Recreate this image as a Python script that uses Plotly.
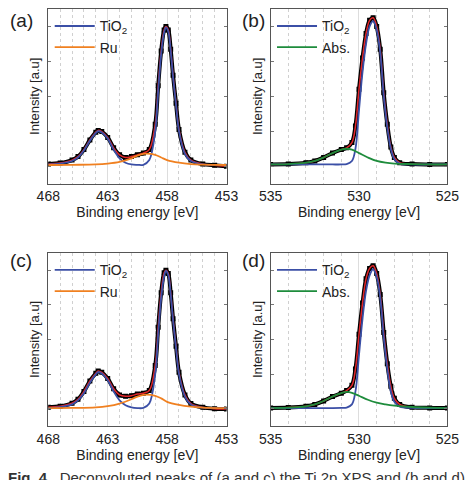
import plotly.graph_objects as go

# ---- Panel (a): Ti 2p ----
a_x = [468,467,466,465.5,465,464.5,464,463.8,463.5,463,462.5,462,461.5,461,460.5,460,459.5,459,458.75,458.5,458.25,458.1,457.9,457.7,457.5,457.25,457,456.5,456,455,454,453]
a_fit = [0.112,0.118,0.135,0.155,0.195,0.25,0.295,0.305,0.298,0.265,0.205,0.165,0.15,0.155,0.165,0.175,0.195,0.34,0.56,0.76,0.88,0.9,0.88,0.77,0.62,0.46,0.31,0.18,0.135,0.112,0.105,0.1]
a_ti = [0.11,0.115,0.13,0.15,0.19,0.245,0.29,0.3,0.293,0.258,0.195,0.145,0.12,0.11,0.108,0.108,0.135,0.3,0.53,0.74,0.865,0.895,0.87,0.76,0.61,0.45,0.3,0.17,0.13,0.11,0.108,0.107]
a_ru_x = [468,466,464,463,462,461,460.5,460,459.7,459,458.5,458,457,456,455,453]
a_ru = [0.107,0.108,0.11,0.115,0.125,0.145,0.16,0.17,0.172,0.165,0.15,0.135,0.12,0.112,0.109,0.107]

# ---- Panel (b): O 1s ----
b_x = [535,534,533,532.5,532,531.5,531,530.7,530.4,530.2,530,529.8,529.6,529.4,529.2,529,528.8,528.6,528.4,528.2,528,527.7,527,526,525]
b_fit = [0.11,0.112,0.12,0.13,0.15,0.175,0.195,0.205,0.235,0.33,0.54,0.72,0.86,0.935,0.95,0.9,0.77,0.52,0.34,0.21,0.15,0.12,0.112,0.11,0.11]
b_ti = [0.11,0.11,0.11,0.11,0.11,0.11,0.11,0.112,0.13,0.2,0.42,0.64,0.8,0.9,0.93,0.88,0.75,0.5,0.32,0.2,0.14,0.115,0.11,0.11,0.11]
b_abs_x = [535,534,533,532.5,532,531.5,531,530.7,530.4,530,529.5,529,528.5,528,527,526,525]
b_abs = [0.11,0.112,0.12,0.13,0.15,0.175,0.195,0.2,0.195,0.175,0.15,0.13,0.12,0.115,0.112,0.11,0.11]

# ---- Panel (c): Ti 2p ----
c_x = a_x
c_fit = [0.108,0.114,0.132,0.155,0.2,0.26,0.305,0.318,0.31,0.275,0.215,0.18,0.172,0.175,0.185,0.19,0.205,0.35,0.57,0.77,0.885,0.9,0.88,0.77,0.62,0.46,0.31,0.18,0.13,0.108,0.1,0.098]
c_ti = [0.105,0.11,0.125,0.148,0.19,0.25,0.298,0.312,0.303,0.265,0.2,0.148,0.12,0.108,0.104,0.105,0.13,0.3,0.53,0.74,0.865,0.895,0.87,0.76,0.61,0.45,0.3,0.17,0.125,0.106,0.104,0.104]
c_ru_x = a_ru_x
c_ru = [0.104,0.105,0.108,0.115,0.13,0.155,0.17,0.18,0.182,0.175,0.16,0.14,0.122,0.112,0.107,0.104]

# ---- Panel (d): O 1s ----
d_x = b_x
d_fit = [0.105,0.107,0.115,0.125,0.145,0.17,0.19,0.205,0.235,0.33,0.53,0.71,0.85,0.91,0.925,0.88,0.76,0.54,0.36,0.23,0.16,0.125,0.108,0.105,0.105]
d_ti = [0.104,0.104,0.104,0.104,0.104,0.104,0.105,0.107,0.125,0.2,0.41,0.62,0.78,0.87,0.905,0.86,0.74,0.51,0.33,0.2,0.14,0.112,0.105,0.104,0.104]
d_abs_x = b_abs_x
d_abs = [0.104,0.106,0.114,0.125,0.145,0.17,0.19,0.197,0.192,0.175,0.152,0.135,0.125,0.118,0.11,0.106,0.104]

BLUE = "#3b4fa6"; ORANGE = "#f08020"; GREEN = "#1e8c3c"; RED = "#e2262a"

panels = [
    ("a", a_x, a_fit, a_ti, a_ru_x, a_ru, "Ru", ORANGE, [468, 453], [468, 463, 458, 453]),
    ("b", b_x, b_fit, b_ti, b_abs_x, b_abs, "Abs.", GREEN, [535, 525], [535, 530, 525]),
    ("c", c_x, c_fit, c_ti, c_ru_x, c_ru, "Ru", ORANGE, [468, 453], [468, 463, 458, 453]),
    ("d", d_x, d_fit, d_ti, d_abs_x, d_abs, "Abs.", GREEN, [535, 525], [535, 530, 525]),
]
xdom = [[0.085, 0.461], [0.554, 0.927]]
ydom = [[0.634, 0.998], [0.129, 0.49]]

fig = go.Figure()
for i, (lab, x, fit, ti, ox, oy, oname, ocol, rng, tv) in enumerate(panels):
    n = i + 1
    xa = "x" if n == 1 else f"x{n}"
    ya = "y" if n == 1 else f"y{n}"
    lg = "legend" if n == 1 else f"legend{n}"
    fig.add_trace(go.Scatter(x=x, y=fit, mode="lines+markers", line=dict(color="black", width=4, shape="spline"),
                             marker=dict(symbol="square", size=5, color="black"), showlegend=False, xaxis=xa, yaxis=ya))
    fig.add_trace(go.Scatter(x=x, y=fit, mode="lines", line=dict(color=RED, width=1.5, shape="spline"),
                             showlegend=False, xaxis=xa, yaxis=ya))
    fig.add_trace(go.Scatter(x=x, y=ti, mode="lines", name="TiO<sub>2</sub>", line=dict(color=BLUE, width=1.8, shape="spline"),
                             legend=lg, xaxis=xa, yaxis=ya))
    fig.add_trace(go.Scatter(x=ox, y=oy, mode="lines", name=oname, line=dict(color=ocol, width=1.8, shape="spline"),
                             legend=lg, xaxis=xa, yaxis=ya))
    xd = xdom[i % 2]; yd = ydom[i // 2]
    fig.layout[("xaxis" if n == 1 else f"xaxis{n}")] = dict(
        domain=xd, anchor=ya, range=rng, tickvals=tv, ticks="", showline=True, linecolor="#555", mirror=True,
        showgrid=True, gridcolor="#dddddd", gridwidth=1, automargin=False,
        minor=dict(dtick=1, showgrid=True, gridcolor="#d0d0d0", griddash="dot", ticks=""),
        tickfont=dict(size=14, color="#222"), zeroline=False,
        title=dict(text="Binding energy [eV]", font=dict(size=14, color="#222"), standoff=2))
    fig.layout[("yaxis" if n == 1 else f"yaxis{n}")] = dict(
        domain=yd, anchor=xa, range=[0.0, 1.0], tickvals=[0.1, 0.3, 0.5, 0.7, 0.9], showticklabels=False,
        ticks="inside", ticklen=3, tickcolor="#777", showline=True, linecolor="#555", mirror="allticks",
        showgrid=False, zeroline=False, automargin=False,
        title=dict(text="Intensity [a.u]", font=dict(size=13, color="#222"), standoff=4))
    fig.layout[lg] = dict(x=xd[0] + 0.003, y=yd[1] - 0.003, xanchor="left", yanchor="top", xref="paper", yref="paper",
                          bgcolor="rgba(255,255,255,0)", font=dict(size=14, color="#222"), tracegroupgap=0,
                          itemwidth=40)
    fig.add_annotation(text=f"({lab})", x=0.0 if i % 2 == 0 else 0.49, y=1.0 if i < 2 else 0.5,
                       xref="paper", yref="paper", xanchor="left", yanchor="top", showarrow=False,
                       font=dict(size=19, color="#222"))

fig.add_annotation(text="<b>Fig. 4</b>   Deconvoluted peaks of (a and c) the Ti 2p XPS and (b and d) O 1s XPS",
                   x=-0.005, y=0.0, xref="paper", yref="paper", xanchor="left", yanchor="bottom", showarrow=False,
                   font=dict(size=15, color="#333"))

fig.update_layout(width=474, height=480, margin=dict(l=0, r=0, t=0, b=0, autoexpand=False), plot_bgcolor="white",
                  paper_bgcolor="white", font=dict(family="Liberation Sans, Arial"))
fig.write_html("out.html")
